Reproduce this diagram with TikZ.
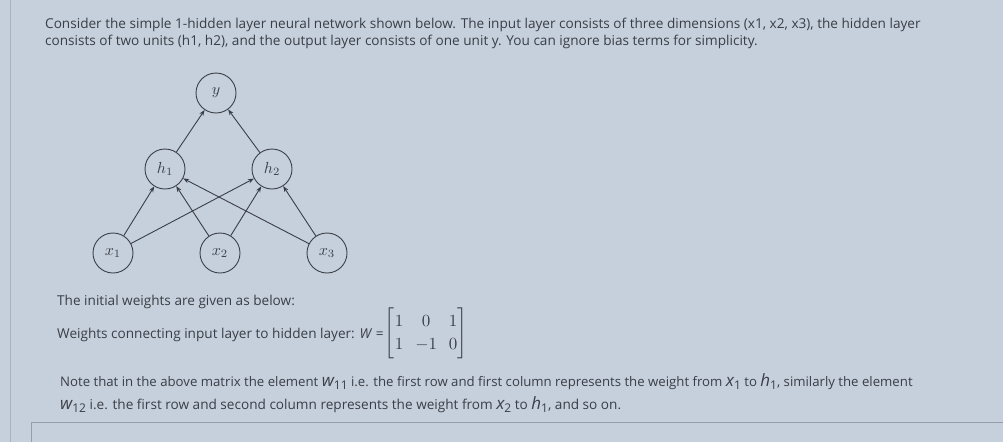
\documentclass[tikz,border=0pt]{standalone}
\usepackage{amsmath}
\usepackage{fontspec}
\setmainfont{Open Sans}
\usetikzlibrary{arrows.meta,positioning}

\definecolor{bgcol}{RGB}{198,208,220}
\definecolor{ink}{RGB}{58,62,70}
\definecolor{rulecol}{RGB}{150,158,168}

\newcommand{\vsub}[2]{{\fontsize{17}{17}\selectfont\itshape #1}\raisebox{-3.5pt}{\fontsize{12}{12}\selectfont #2}}
\newcommand{\lbl}[1]{\scalebox{1.6}{$#1$}}

\tikzset{
  unit/.style={circle, draw=ink, line width=0.9pt, minimum size=40pt, inner sep=0pt, text=ink},
  wire/.style={draw=ink, line width=0.9pt, -{Stealth[length=6pt,width=4.5pt]}},
  txt/.style={anchor=base west, inner sep=0pt, text=ink, font=\fontsize{13.6}{17}\selectfont}
}

\begin{document}
\begin{tikzpicture}[x=1pt,y=-1pt]
  \fill[bgcol] (0,0) rectangle (1003,442);
  \useasboundingbox (0,0) rectangle (1003,442);
  \draw[rulecol!60!bgcol, line width=0.8pt] (10,0) -- (10,442);
  \draw[rulecol, line width=0.8pt] (31,442) -- (31,422) -- (1003,422);

  % question text
  \node[txt] (intro1) at (45,28) {Consider the simple 1-hidden layer neural network shown below. The input layer consists of three dimensions (x1, x2, x3), the hidden layer};
  \node[txt] (intro2) at (45,45) {consists of two units (h1, h2), and the output layer consists of one unit y. You can ignore bias terms for simplicity.};

  % network
  \node[unit] (y) at (216,93) {\lbl{y}};
  \node[unit] (h1) at (165,169) {\lbl{h_1}};
  \node[unit] (h2) at (272,169) {\lbl{h_2}};
  \node[unit] (x1) at (113,253) {\lbl{x_1}};
  \node[unit] (x2) at (220,253) {\lbl{x_2}};
  \node[unit] (x3) at (327,253) {\lbl{x_3}};
  \foreach \i in {x1,x2,x3}
    \foreach \j in {h1,h2}
      \draw[wire] (\i) -- (\j);
  \draw[wire] (h1) -- (y);
  \draw[wire] (h2) -- (y);

  % weights
  \node[txt] (initw) at (57,305) {The initial weights are given as below:};
  \node[txt] (wline) at (57,338) {Weights connecting input layer to hidden layer: \textit{W} =};
  \node[right=1pt of wline, yshift=1pt, inner sep=0pt, text=ink] (wmat)
    {\scalebox{1.7}{\setlength{\arraycolsep}{3.5pt}\renewcommand{\arraystretch}{1.15}$\begin{bmatrix} 1 & 0 & 1\\ 1 & -1 & 0 \end{bmatrix}$}};

  \node[txt, font=\fontsize{13.2}{17}\selectfont] (note1) at (60,386) {Note that in the above matrix the element \vsub{w}{11} i.e. the first row and first column represents the weight from \vsub{x}{1} to \vsub{h}{1}, similarly the element};
  \node[txt] (note2) at (60,409) {\vsub{w}{12} i.e. the first row and second column represents the weight from \vsub{x}{2} to \vsub{h}{1}, and so on.};
\end{tikzpicture}
\end{document}
